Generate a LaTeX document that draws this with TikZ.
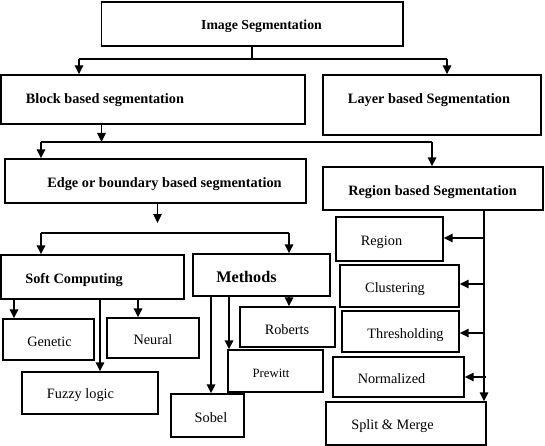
\documentclass[tikz,border=0pt]{standalone}
\usepackage{fontspec}
\setmainfont{Liberation Serif}
\usetikzlibrary{arrows.meta}
\begin{document}
\begin{tikzpicture}[x=1pt,y=-1pt,
  box/.style={draw, line width=1.4pt, inner sep=0pt},
  ttl/.style={anchor=base, inner sep=0pt, font=\fontsize{14.3}{16}\selectfont\bfseries},
  txt/.style={anchor=base, inner sep=0pt, font=\fontsize{14.3}{16}\selectfont},
  ln/.style={line width=1.6pt},
  ar/.style={line width=1.6pt, -{Triangle[length=9pt,width=8.5pt]}}]
\useasboundingbox (0,0) rectangle (545,446);
% boxes
\node[box, minimum width=301.5pt, minimum height=44pt] (top) at (252.25,24) {};
\node[box, minimum width=304pt, minimum height=49pt] (blk) at (153,99.5) {};
\node[box, minimum width=218pt, minimum height=60pt] (lay) at (432,105) {};
\node[box, minimum width=301pt, minimum height=44pt] (edge) at (155.5,181) {};
\node[box, minimum width=220pt, minimum height=43pt] (reg) at (433,188.5) {};
\node[box, minimum width=183pt, minimum height=44pt] (soft) at (92.5,277) {};
\node[box, minimum width=137pt, minimum height=42pt] (meth) at (261.5,275) {};
\node[box, minimum width=91pt, minimum height=41pt] (gen) at (48.5,339.5) {};
\node[box, minimum width=92pt, minimum height=40pt] (neu) at (153,338) {};
\node[box, minimum width=136pt, minimum height=42pt] (fuz) at (90,393) {};
\node[box, minimum width=95pt, minimum height=40pt] (rob) at (287.5,327) {};
\node[box, minimum width=95pt, minimum height=42pt] (pre) at (275.5,371) {};
\node[box, minimum width=73pt, minimum height=43pt] (sob) at (207.5,415.5) {};
\node[box, minimum width=107pt, minimum height=44pt] (rg) at (389.5,239) {};
\node[box, minimum width=119pt, minimum height=42pt] (clu) at (399.5,286) {};
\node[box, minimum width=117pt, minimum height=41pt] (thr) at (400.5,331.5) {};
\node[box, minimum width=131pt, minimum height=40pt] (nor) at (398.5,377) {};
\node[box, minimum width=160pt, minimum height=43pt] (spl) at (406,423.5) {};
% texts
\node[ttl, font=\fontsize{13.8}{16}\selectfont\bfseries] (t-top) at (261.5,29.5) {Image Segmentation};
\node[ttl] (t-blk) at (105,103.5) {Block based segmentation};
\node[ttl] (t-lay) at (429,103.5) {Layer based Segmentation};
\node[ttl] (t-edge) at (164.5,187.5) {Edge or boundary based segmentation};
\node[ttl] (t-reg) at (432.5,195.5) {Region based Segmentation};
\node[ttl] (t-soft) at (74,283.5) {Soft Computing};
\node[ttl, font=\fontsize{16.2}{18}\selectfont\bfseries] (t-meth) at (246.5,282.5) {Methods};
\node[txt] (t-gen) at (49.5,346.5) {Genetic};
\node[txt] (t-neu) at (153,344.5) {Neural};
\node[txt] (t-fuz) at (80.5,398.5) {Fuzzy logic};
\node[txt] (t-rob) at (287,334.5) {Roberts};
\node[txt, font=\fontsize{12.7}{14}\selectfont] (t-pre) at (271,377) {Prewitt};
\node[txt] (t-sob) at (211,422.5) {Sobel};
\node[txt] (t-rg) at (381.5,245.5) {Region};
\node[txt] (t-clu) at (395,292.5) {Clustering};
\node[txt] (t-thr) at (405.5,338.5) {Thresholding};
\node[txt] (t-nor) at (391.5,383.5) {Normalized};
\node[txt] (t-spl) at (392.5,429.5) {Split \& Merge};
% connectors: level 1
\coordinate (h1L) at (79,59);
\coordinate (h1R) at (447,59);
\draw[ln] (top.south) -- (top.south |- h1L);
\draw[ln] (h1L) -- (h1R);
\draw[ar] (h1L) -- (h1L |- blk.north);
\draw[ar] (h1R) -- (h1R |- lay.north);
% level 2
\coordinate (b1) at (101.5,142);
\coordinate (h2L) at (41,142);
\coordinate (h2R) at (432,142);
\draw[ar] (blk.south -| b1) -- (b1);
\draw[ln] (h2L) -- (h2R);
\draw[ar] (h2L) -- (h2L |- edge.north);
\draw[ar] (h2R) -- (h2R |- reg.north);
% level 3
\coordinate (e1) at (157.5,223);
\coordinate (h3L) at (41,233);
\coordinate (h3R) at (289,233);
\draw[ar] (edge.south -| e1) -- (e1);
\draw[ln] (h3L) -- (h3R);
\draw[ar] (h3L) -- (h3L |- soft.north);
\draw[ar] (h3R) -- (h3R |- meth.north);
% soft computing
\draw[ar] (soft.south -| 14,0) -- (gen.north -| 14,0);
\draw[ar] (soft.south -| 100,0) -- (fuz.north -| 100,0);
\draw[ar] (soft.south -| 138,0) -- (neu.north -| 138,0);
% methods
\draw[ar] (meth.south -| 211,0) -- (sob.north -| 211,0);
\draw[ar] (meth.south -| 229,0) -- (pre.north -| 229,0);
\draw[ar] (meth.south -| 289,0) -- (rob.north -| 289,0);
% region based
\draw[ar] (reg.south -| 484,0) -- (spl.north -| 484,0);
\draw[ar] (484,238) -- (rg.east |- 0,238);
\draw[ar] (484,284) -- (clu.east |- 0,284);
\draw[ar] (484,333) -- (thr.east |- 0,333);
\draw[ar] (486,377) -- (nor.east |- 0,377);
\end{tikzpicture}
\end{document}
